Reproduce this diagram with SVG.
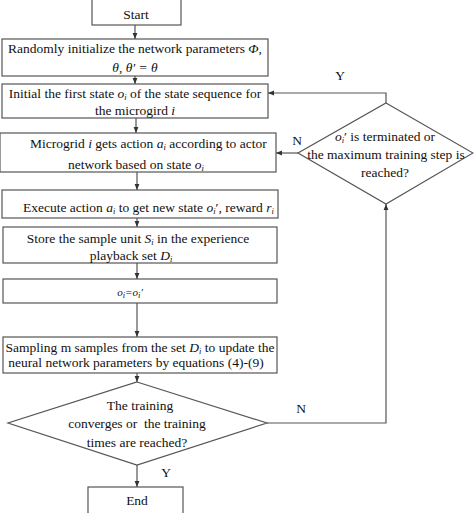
<svg xmlns="http://www.w3.org/2000/svg" width="474" height="513" viewBox="0 0 474 513">
<defs>
<marker id="ah" viewBox="0 0 10 10" refX="10" refY="5" markerWidth="6" markerHeight="6" orient="auto" markerUnits="userSpaceOnUse">
<path d="M0,1 L10,5 L0,9 z" fill="#333"/>
</marker>
<style>
.box{fill:#fff;stroke:#555;stroke-width:1.2}
.ln{fill:none;stroke:#555;stroke-width:1.2}
.t{font-family:"Liberation Serif","Times New Roman",serif;font-size:13.5px;fill:#111}
.c{text-anchor:middle}
.it{font-style:italic}
.sb{font-size:8.5px;font-style:italic}
</style>
</defs>
<rect width="474" height="513" fill="#fff"/>
<g id="connectors">
<line class="ln" x1="135" y1="25" x2="135" y2="39" marker-end="url(#ah)"/>
<line class="ln" x1="135" y1="76" x2="135" y2="84" marker-end="url(#ah)"/>
<line class="ln" x1="136" y1="118" x2="136" y2="133" marker-end="url(#ah)"/>
<line class="ln" x1="137" y1="172" x2="137" y2="190" marker-end="url(#ah)"/>
<line class="ln" x1="137" y1="218" x2="137" y2="227" marker-end="url(#ah)"/>
<line class="ln" x1="137" y1="263" x2="137" y2="279" marker-end="url(#ah)"/>
<line class="ln" x1="137" y1="303" x2="137" y2="337" marker-end="url(#ah)"/>
<line class="ln" x1="137" y1="373" x2="137" y2="382" marker-end="url(#ah)"/>
<line class="ln" x1="137" y1="465" x2="137" y2="487" marker-end="url(#ah)"/>
<polyline class="ln" points="267,423 386,423 386,204" marker-end="url(#ah)"/>
<polyline class="ln" points="386,103 386,93 268,93" marker-end="url(#ah)"/>
<line class="ln" x1="298" y1="153" x2="276" y2="153" marker-end="url(#ah)"/>
<text class="t c" x="340" y="80">Y</text>
<text class="t c" x="297" y="145">N</text>
<text class="t c" x="301" y="413">N</text>
<text class="t c" x="166" y="477">Y</text>
</g>
<g id="start">
<rect class="box" x="92" y="-2" width="89" height="27"/>
<text class="t c" x="136" y="19">Start</text>
</g>
<g id="init-params">
<rect class="box" x="2" y="39" width="266" height="37"/>
<text class="t c" x="135" y="53">Randomly initialize the network parameters <tspan class="it">Φ</tspan>,</text>
<text class="t c it" x="135" y="72">θ, θ′ = θ</text>
</g>
<g id="init-state">
<rect class="box" x="2" y="84" width="266" height="34"/>
<text class="t c" x="135" y="98">Initial the first state <tspan class="it">o</tspan><tspan class="sb" dy="2">i</tspan><tspan dy="-2"> of the state sequence for</tspan></text>
<text class="t c" x="135" y="115">the microgird <tspan class="it">i</tspan></text>
</g>
<g id="get-action">
<rect class="box" x="0" y="133" width="276" height="39"/>
<text class="t" x="30" y="148">Microgrid <tspan class="it">i</tspan> gets action <tspan class="it">a</tspan><tspan class="sb" dy="2">i</tspan><tspan dy="-2"> according to actor</tspan></text>
<text class="t" x="68" y="169">network based on state <tspan class="it">o</tspan><tspan class="sb" dy="2">i</tspan></text>
</g>
<g id="execute">
<rect class="box" x="2" y="190" width="276" height="28"/>
<text class="t" x="23" y="212">Execute action <tspan class="it">a</tspan><tspan class="sb" dy="2">i</tspan><tspan dy="-2"> to get new state </tspan><tspan class="it">o</tspan><tspan class="sb" dy="2">i</tspan><tspan dy="-2">′, reward </tspan><tspan class="it">r</tspan><tspan class="sb" dy="2">i</tspan></text>
</g>
<g id="store">
<rect class="box" x="3" y="227" width="274" height="36"/>
<text class="t c" x="138" y="243">Store the sample unit <tspan class="it">S</tspan><tspan class="sb" dy="2">i</tspan><tspan dy="-2"> in the experience</tspan></text>
<text class="t c" x="131" y="260">playback set <tspan class="it">D</tspan><tspan class="sb" dy="2">i</tspan></text>
</g>
<g id="update-state">
<rect class="box" x="3" y="279" width="274" height="24"/>
<text class="t c it" x="130" y="296" style="font-size:11px">o<tspan class="sb" dy="2">i</tspan><tspan dy="-2">=o</tspan><tspan class="sb" dy="2">i</tspan><tspan dy="-2">′</tspan></text>
</g>
<g id="sampling">
<rect class="box" x="3" y="337" width="274" height="36"/>
<text class="t c" x="140" y="352">Sampling m samples from the set <tspan class="it">D</tspan><tspan class="sb" dy="2">i</tspan><tspan dy="-2"> to update the</tspan></text>
<text class="t c" x="136" y="367">neural network parameters by equations (4)-(9)</text>
</g>
<g id="converge">
<polygon class="box" points="137,382 267,423 137,465 8,423"/>
<text class="t c" x="140" y="410">The training</text>
<text class="t c" x="137" y="428">converges or&#160; the training</text>
<text class="t c" x="137" y="447">times are reached?</text>
</g>
<g id="terminated">
<polygon class="box" points="386,103 473,153 386,204 298,153"/>
<text class="t c" x="385" y="141"><tspan class="it">o</tspan><tspan class="sb" dy="2">i</tspan><tspan dy="-2">′ is terminated or</tspan></text>
<text class="t c" x="386" y="159">the maximum training step is</text>
<text class="t c" x="385" y="177">reached?</text>
</g>
<g id="end">
<rect class="box" x="88" y="487" width="95" height="30"/>
<text class="t c" x="137" y="505">End</text>
</g>
</svg>
